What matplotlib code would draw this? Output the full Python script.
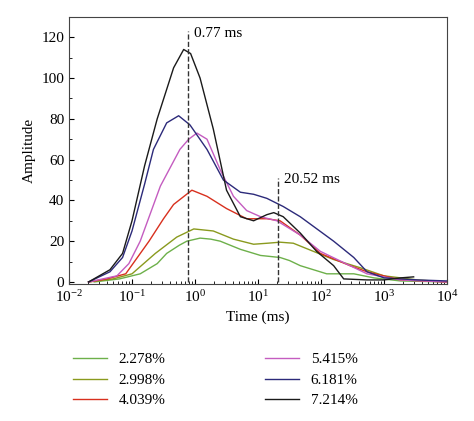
import matplotlib
matplotlib.use("Agg")
import matplotlib.pyplot as plt
import numpy as np

plt.rcParams['font.family'] = ['Liberation Serif', 'DejaVu Serif']
plt.rcParams['mathtext.fontset'] = 'stix'

labels = ['2.278%', '2.998%', '4.039%', '5.415%', '6.181%', '7.214%']
colors = ['#6db04a', '#8a9a1e', '#d8301e', '#c45cc0', '#2c2a7a', '#1a1a1a']

# log10(time in ms) and amplitude per series
lt_green = [-1.6, -1.2, -0.87, -0.6, -0.45, -0.25, -0.13, 0.08, 0.25, 0.4, 0.72, 1.04, 1.35, 1.5, 1.67, 2.09, 2.52, 2.84, 3.26, 4.0]
amp_green = [0, 1.5, 4, 9, 14, 18, 20, 21.5, 21, 20, 16, 13, 12, 10.5, 8, 4, 4, 2, 0.5, 0]
lt_olive = [-1.69, -1.3, -1.0, -0.63, -0.29, -0.02, 0.29, 0.61, 0.93, 1.15, 1.35, 1.56, 1.88, 2.2, 2.62, 3.0, 3.53, 4.0]
amp_olive = [0, 1.5, 4, 14, 22, 26, 25, 21, 18.5, 19, 19.5, 19, 15, 11, 7, 3, 1, 0]
lt_red = [-1.69, -1.4, -1.1, -0.73, -0.5, -0.34, -0.05, 0.19, 0.5, 0.82, 1.14, 1.35, 1.67, 1.99, 2.46, 2.73, 3.26, 4.0]
amp_red = [0, 1.5, 4, 20, 31, 38, 45, 42, 36, 31, 31, 30, 23, 14, 8, 5, 1, 0]
lt_mag = [-1.69, -1.24, -1.05, -0.87, -0.55, -0.24, -0.1, 0.03, 0.19, 0.4, 0.61, 0.82, 1.04, 1.3, 1.67, 1.99, 2.46, 2.73, 3.26, 4.0]
amp_mag = [0, 3, 9, 20, 47, 65, 70, 73, 70, 55, 42, 35, 32, 30, 23, 15, 8, 4, 1, 0]
lt_blue = [-1.69, -1.35, -1.15, -1.0, -0.8, -0.66, -0.45, -0.26, -0.08, 0.19, 0.45, 0.72, 0.93, 1.14, 1.4, 1.67, 2.2, 2.52, 2.73, 3.0, 3.53, 4.0]
amp_blue = [0, 5, 12, 25, 48, 65, 78, 81.5, 77, 65, 50, 44, 43, 41, 37, 32, 20, 12, 5, 2, 1, 0.5]
lt_black = [-1.69, -1.35, -1.15, -1.0, -0.8, -0.6, -0.34, -0.18, -0.07, 0.08, 0.29, 0.5, 0.72, 0.93, 1.14, 1.25, 1.4, 1.67, 1.93, 2.2, 2.36, 2.73, 3.0, 3.26, 3.47]
amp_black = [0, 6, 14, 30, 57, 80, 105, 114, 112, 100, 75, 45, 32, 30, 33, 34, 32, 24, 15, 8, 1.5, 1, 1, 2, 2.5]

series = [(lt_green, amp_green), (lt_olive, amp_olive), (lt_red, amp_red),
          (lt_mag, amp_mag), (lt_blue, amp_blue), (lt_black, amp_black)]

peak_times = [0.77, 20.52]
peak_labels = ['0.77 ms', '20.52 ms']
peak_heights = [123, 51]

fig = plt.figure(figsize=(4.74, 4.21), dpi=100)
ax = fig.add_axes([0.1456, 0.3254, 0.7975, 0.6346])
lines = []
for (lt, a), c, lab in zip(series, colors, labels):
    l, = ax.plot(10 ** np.array(lt), a, color=c, lw=1.0, label=lab)
    lines.append(l)

for t, lab, h in zip(peak_times, peak_labels, peak_heights):
    ax.plot([t, t], [0, h], ls='--', color='#333333', lw=1.0)
    ax.text(t * 1.25, h - 1, lab, fontsize=11, va='center', ha='left')

ax.set_xscale('log')
ax.set_xlim(1e-2, 1e4)
ax.set_ylim(-1, 130)
ax.set_yticks(range(0, 121, 20))
ax.set_yticks(range(0, 131, 10), minor=True)
ax.set_xticks([10.0 ** k for k in range(-2, 5)])
ax.tick_params(labelsize=11)
ax.tick_params(which='both', direction='in')
ax.set_xlabel('Time (ms)', fontsize=11)
ax.set_ylabel('Amplitude', fontsize=11)
for s in ax.spines.values():
    s.set_color('#444444')

leg = fig.legend(handles=lines, labels=labels, loc='upper left', bbox_to_anchor=(0.125, 0.195),
                 ncol=2, frameon=False, fontsize=11, handlelength=2.2, columnspacing=6.5,
                 labelspacing=0.45)
fig.savefig('out.png', dpi=100)
